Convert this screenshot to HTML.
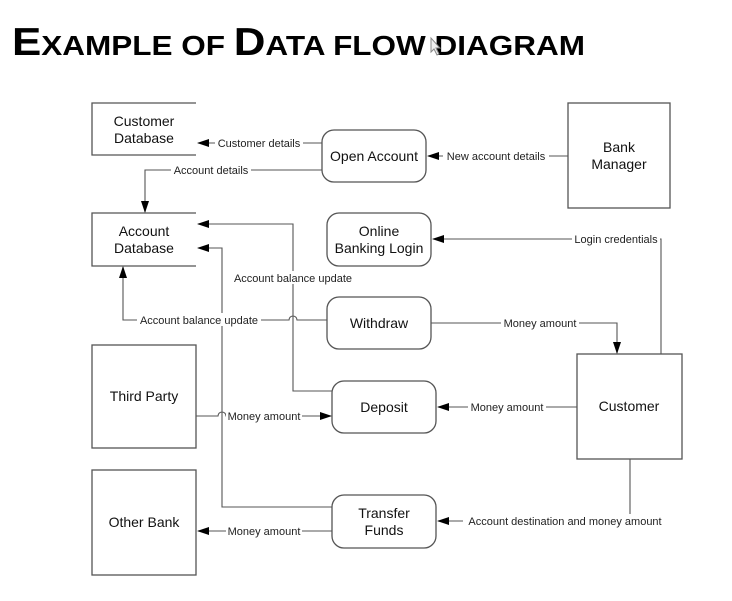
<!DOCTYPE html>
<html><head><meta charset="utf-8"><style>
html,body{margin:0;padding:0;background:#fff;}
svg{display:block;font-family:"Liberation Sans",Arial,sans-serif;}
</style></head><body>
<svg width="732" height="601" viewBox="0 0 732 601" xmlns="http://www.w3.org/2000/svg">
<defs>
<marker id="a" markerWidth="12" markerHeight="8" refX="11" refY="4" orient="auto" markerUnits="userSpaceOnUse">
<path d="M0,0 L12,4 L0,8 Z" fill="#000"/></marker>
</defs>
<text x="12" y="55" font-weight="bold" fill="#000" textLength="573" lengthAdjust="spacingAndGlyphs"><tspan font-size="39">E</tspan><tspan font-size="28">XAMPLE OF </tspan><tspan font-size="39">D</tspan><tspan font-size="28">ATA FLOW DIAGRAM</tspan></text>
<path d="M431,38 l0,14 l3,-3 l3,6 l2,-1 l-3,-6 l4,0 Z" fill="#eee" stroke="#888" stroke-width="1"/>

<g fill="none" stroke="#555" stroke-width="1.3">
<!-- data stores -->
<path d="M196,103 H92 V155 H196"/>
<path d="M196,213 H92 V266 H196"/>
<!-- entities -->
<rect x="568" y="103" width="102" height="105"/>
<rect x="577" y="354" width="105" height="105"/>
<rect x="92" y="345" width="104" height="103"/>
<rect x="92" y="470" width="104" height="105"/>
<!-- processes -->
<rect x="322" y="130" width="104" height="52" rx="12"/>
<rect x="327" y="213" width="104" height="53" rx="12"/>
<rect x="327" y="297" width="104" height="52" rx="12"/>
<rect x="332" y="381" width="104" height="52" rx="12"/>
<rect x="332" y="495" width="104" height="53" rx="12"/>
</g>
<g fill="none" stroke="#555" stroke-width="1.1">
<path d="M322,143 H198" marker-end="url(#a)"/>
<path d="M322,170 H145 V212" marker-end="url(#a)"/>
<path d="M568,156 H428" marker-end="url(#a)"/>
<path d="M661,354 V239 H433" marker-end="url(#a)"/>
<path d="M431,323 H617 V353" marker-end="url(#a)"/>
<path d="M327,320 H297 a4,4 0 0 0 -8,0 H123 V267" marker-end="url(#a)"/>
<path d="M332,391 H293 V224 H198" marker-end="url(#a)"/>
<path d="M332,507 H222 V248 H198" marker-end="url(#a)"/>
<path d="M577,407 H438" marker-end="url(#a)"/>
<path d="M196,416 H218 a4,4 0 0 1 8,0 H331" marker-end="url(#a)"/>
<path d="M630,459 V521 H438" marker-end="url(#a)"/>
<path d="M332,531 H198" marker-end="url(#a)"/>
</g>
<g font-size="11" fill="#222" text-anchor="middle">
<rect x="215" y="136" width="88" height="13" fill="#fff"/><text x="259" y="147">Customer details</text>
<rect x="171" y="163" width="80" height="13" fill="#fff"/><text x="211" y="174">Account details</text>
<rect x="443" y="149" width="106" height="13" fill="#fff"/><text x="496" y="160">New account details</text>
<rect x="572" y="232" width="88" height="13" fill="#fff"/><text x="616" y="243">Login credentials</text>
<rect x="501" y="316" width="78" height="13" fill="#fff"/><text x="540" y="327">Money amount</text>
<rect x="137" y="313" width="124" height="13" fill="#fff"/><text x="199" y="324">Account balance update</text>
<rect x="231" y="271" width="124" height="13" fill="#fff"/><text x="293" y="282">Account balance update</text>
<rect x="468" y="400" width="78" height="13" fill="#fff"/><text x="507" y="411">Money amount</text>
<rect x="226" y="409" width="76" height="13" fill="#fff"/><text x="264" y="420">Money amount</text>
<rect x="463" y="514" width="204" height="13" fill="#fff"/><text x="565" y="525">Account destination and money amount</text>
<rect x="226" y="524" width="76" height="13" fill="#fff"/><text x="264" y="535">Money amount</text>
</g>
<g font-size="14" fill="#111" text-anchor="middle">
<text x="144" y="126">Customer</text><text x="144" y="143">Database</text>
<text x="144" y="236">Account</text><text x="144" y="253">Database</text>
<text x="619" y="152">Bank</text><text x="619" y="169">Manager</text>
<text x="629" y="411">Customer</text>
<text x="144" y="401">Third Party</text>
<text x="144" y="527">Other Bank</text>
<text x="374" y="161">Open Account</text>
<text x="379" y="236">Online</text><text x="379" y="253">Banking Login</text>
<text x="379" y="328">Withdraw</text>
<text x="384" y="412">Deposit</text>
<text x="384" y="518">Transfer</text><text x="384" y="535">Funds</text>
</g>
</svg>
</body></html>
